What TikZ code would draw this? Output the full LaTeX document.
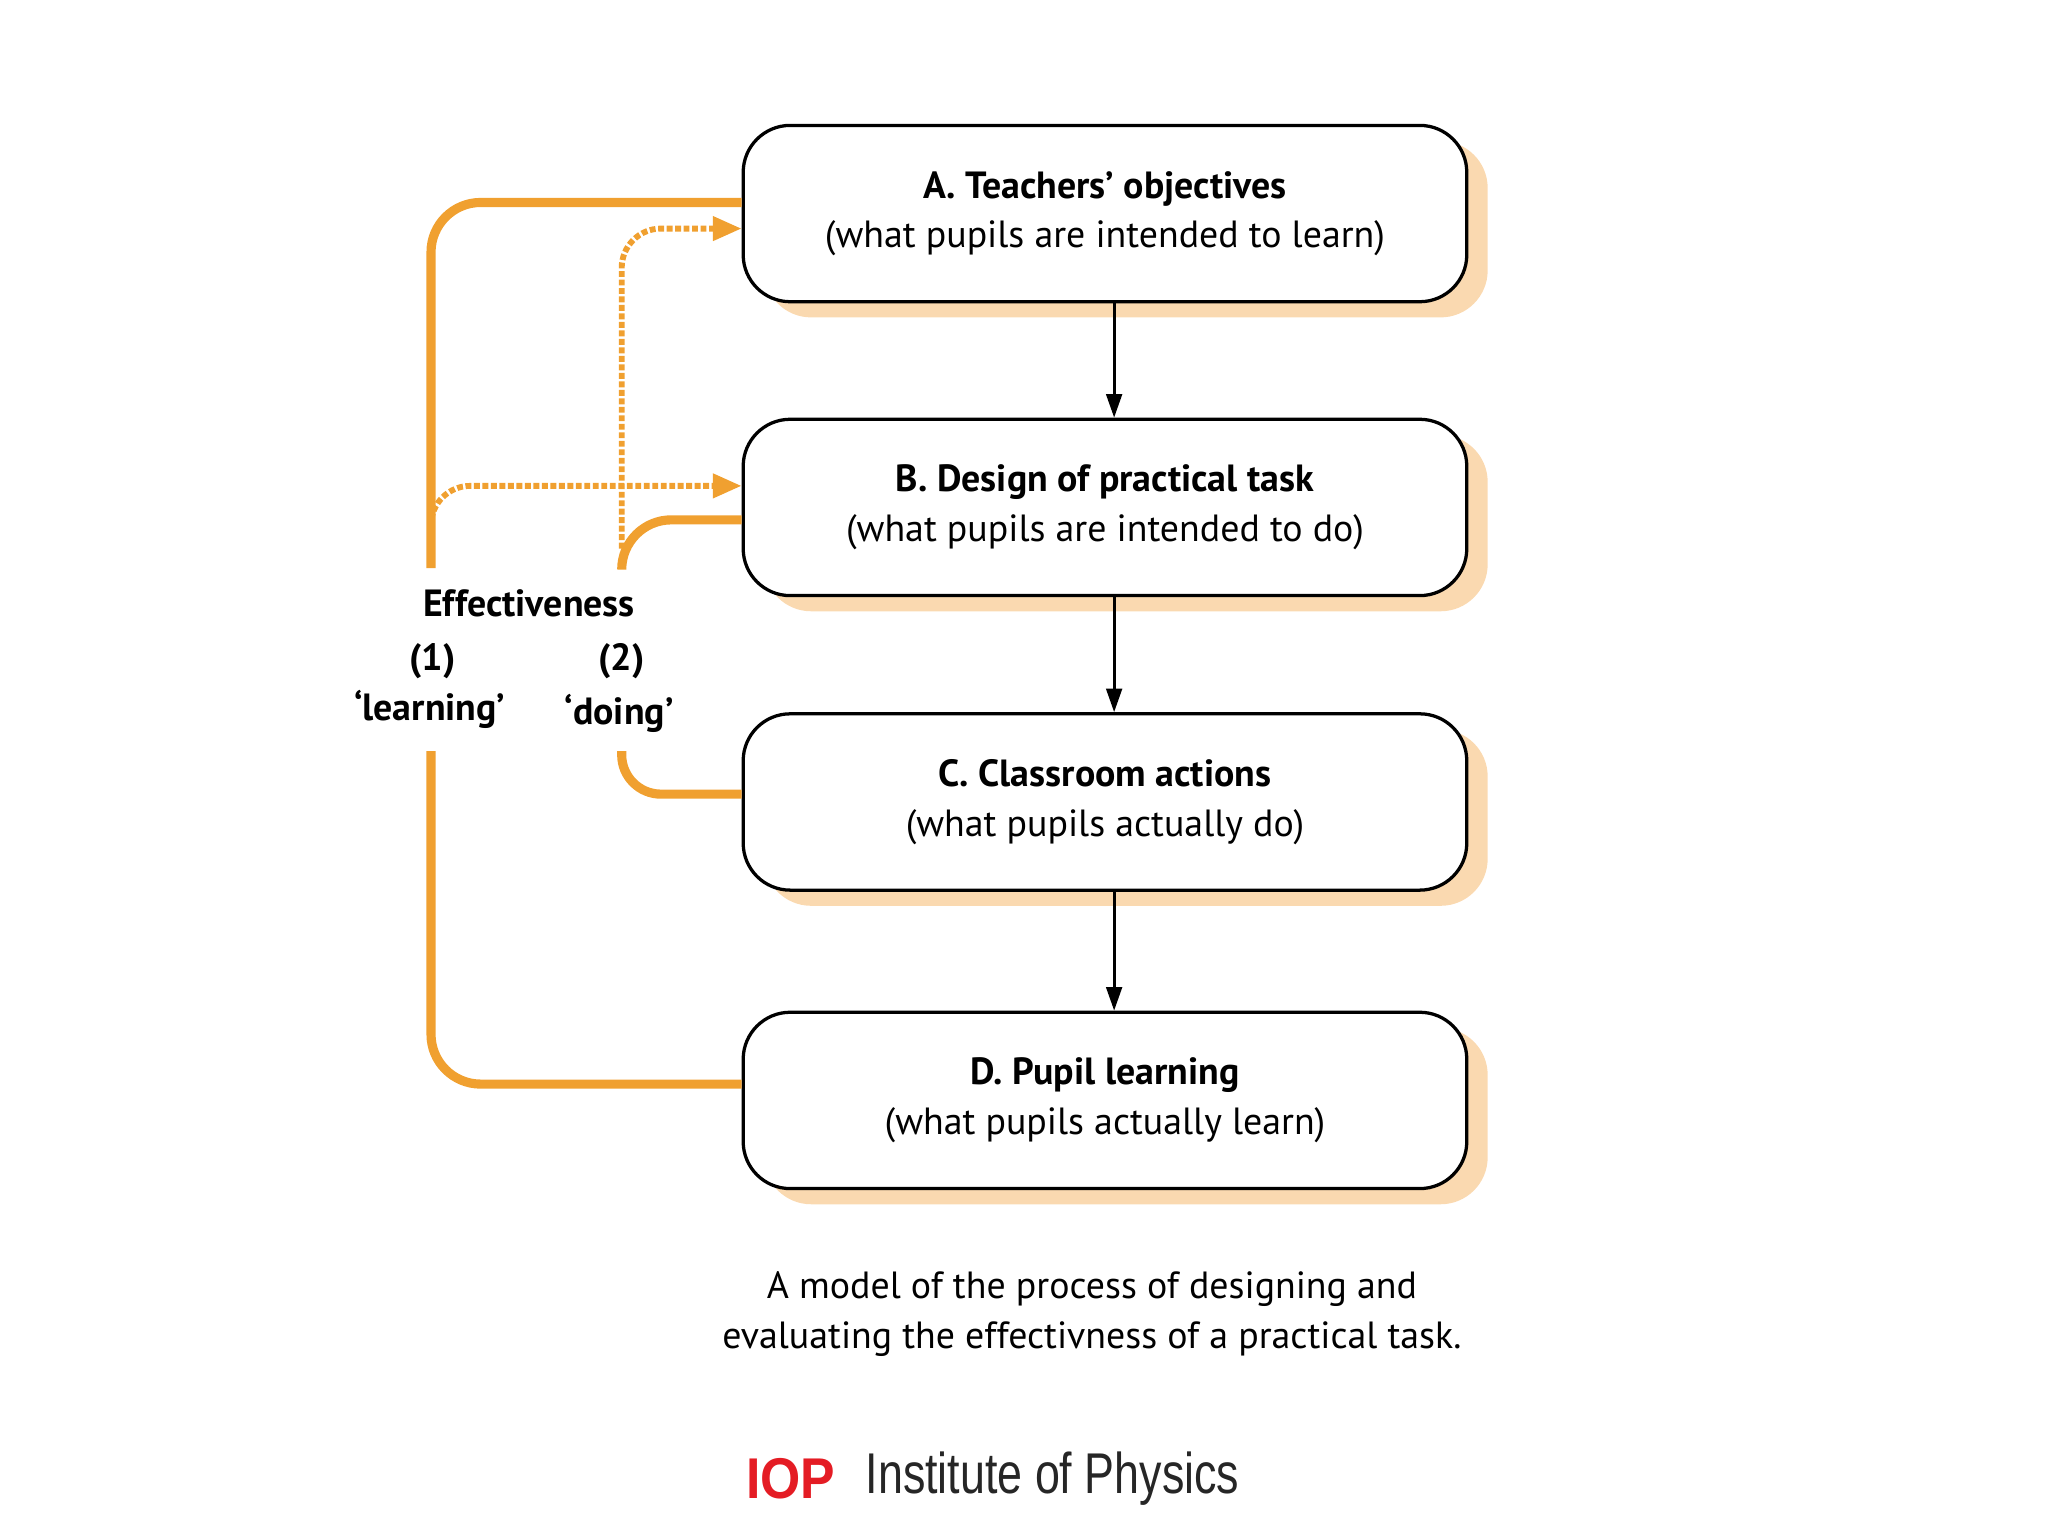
\documentclass[tikz,border=0pt]{standalone}
\usepackage{fontspec}
\setmainfont{PT Sans}
\newfontfamily\logofont{Liberation Sans}
\usetikzlibrary{arrows.meta}
\definecolor{org}{HTML}{F0A030}
\definecolor{shad}{HTML}{FAD9B0}
\tikzset{
 stage/.style={draw=black,line width=2.5pt,rounded corners=36pt,fill=white,minimum width=554pt,minimum height=135pt,align=center,font=\fontsize{29}{38}\selectfont},
 shadowbox/.style={fill=shad,rounded corners=36pt,minimum width=554pt,minimum height=135pt},
 flow/.style={-{Triangle[length=18pt,width=12pt]},line width=2.2pt},
 fb/.style={org,line width=7pt,rounded corners=38pt},
 fbd/.style={org,line width=4.5pt,dotted,rounded corners=30pt,-{Triangle[length=22pt,width=18pt]}},
 lab/.style={font=\bfseries\fontsize{29}{34}\selectfont}
}
\begin{document}
\begin{tikzpicture}[x=1pt,y=-1pt]
\useasboundingbox (0,0) rectangle (1568,1176);
\foreach \y in {163.5,388.5,614,842.5}{\node[shadowbox] at (862,\y+12) {};}
\node[stage] (A) at (846,163.5) {\textbf{A. Teachers’ objectives}\\(what pupils are intended to learn)};
\node[stage] (B) at (846,388.5) {\textbf{B. Design of practical task}\\(what pupils are intended to do)};
\node[stage] (C) at (846,614) {\textbf{C. Classroom actions}\\(what pupils actually do)};
\node[stage] (D) at (846,842.5) {\textbf{D. Pupil learning}\\(what pupils actually learn)};
\draw[flow] (A.south -| 853,0) -- (B.north -| 853,0);
\draw[flow] (B.south -| 853,0) -- (C.north -| 853,0);
\draw[flow] (C.south -| 853,0) -- (D.north -| 853,0);
\node[lab] (eff) at (405,462) {Effectiveness};
\node[lab] (n1) at (331,506) {(1)};
\node[lab] (l1) at (329,543) {‘learning’};
\node[lab] (n2) at (476,506) {(2)};
\node[lab] (l2) at (474,546) {‘doing’};
\coordinate (p1) at (330,435);
\coordinate (q1) at (330,575);
\coordinate (p2) at (476,435);
\coordinate (q2) at (476,575);
\draw[fbd] (330,400) -- (330,372) -- (B.west |- 0,372);
\draw[fbd] (476,420) -- (476,175) -- (A.west |- 0,175);
\draw[fb] (A.west |- 0,155) -- (330,155) -- (p1);
\draw[fb] (D.west |- 0,830) -- (330,830) -- (q1);
\draw[fb] (B.west |- 0,398) -- (476,398) -- (p2);
\draw[fb,rounded corners=30pt] (C.west |- 0,608) -- (476,608) -- (q2);
\node[font=\fontsize{29}{38}\selectfont,align=center] (cap) at (836,1006) {A model of the process of designing and\\evaluating the effectivness of a practical task.};
\node[anchor=west,font=\logofont\bfseries\fontsize{44}{44}\selectfont,text={rgb,255:red,228;green,28;blue,36},xscale=0.9] (iop) at (568,1132) {IOP};
\node[anchor=west,font=\logofont\fontsize{44}{44}\selectfont,xscale=0.78,text=black!85] (inst) at (660,1132) {Institute of Physics};
\end{tikzpicture}
\end{document}
